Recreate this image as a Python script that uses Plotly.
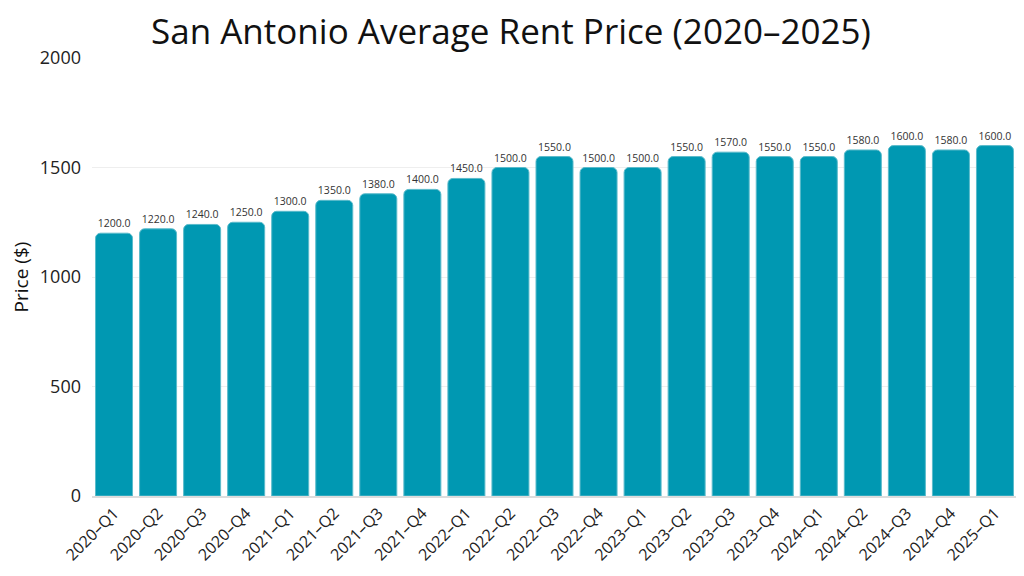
import plotly.graph_objects as go

quarters = ["2020–Q1", "2020–Q2", "2020–Q3", "2020–Q4", "2021–Q1", "2021–Q2", "2021–Q3",
            "2021–Q4", "2022–Q1", "2022–Q2", "2022–Q3", "2022–Q4", "2023–Q1", "2023–Q2",
            "2023–Q3", "2023–Q4", "2024–Q1", "2024–Q2", "2024–Q3", "2024–Q4", "2025–Q1"]
prices = [1200, 1220, 1240, 1250, 1300, 1350, 1380, 1400, 1450, 1500, 1550, 1500,
          1500, 1550, 1570, 1550, 1550, 1580, 1600, 1580, 1600]
y_ticks = [0, 500, 1000, 1500, 2000]

FONT = "'Open Sans', Lato, sans-serif"

fig = go.Figure(go.Bar(
    x=quarters, y=prices,
    marker=dict(color="#0098B2", line=dict(color="#5BBBCB", width=1), cornerradius=5),
    text=[f"{v:.1f}" for v in prices],
    textposition="outside",
    textfont=dict(family=FONT, size=10.5, color="#333333"),
    cliponaxis=False,
))

fig.update_layout(
    width=1016, height=568,
    margin=dict(l=84, r=7, t=50, b=80),
    paper_bgcolor="white", plot_bgcolor="white",
    bargap=0.16,
    showlegend=False,
    title=dict(text="San Antonio Average Rent Price (2020–2025)", x=0.495, xanchor="center",
               y=0.958, yanchor="middle",
               font=dict(family=FONT, size=35, color="#111111")),
    xaxis=dict(tickangle=-45, tickfont=dict(family=FONT, size=16, color="#222222"),
               showgrid=False, showline=True, linecolor="#dddddd", linewidth=1.5,
               ticks="", range=[-0.5, len(quarters) - 0.5], automargin=False),
    yaxis=dict(range=[0, 2000], tickvals=y_ticks, showgrid=True, gridcolor="#eeeeee",
               zeroline=False, tickfont=dict(family=FONT, size=18, color="#222222"),
               title=dict(text="Price ($)", font=dict(family=FONT, size=19, color="#111111"),
                          standoff=12),
               ticks="", ticklabelstandoff=10, automargin=False),
)

fig.write_html("out.html")
